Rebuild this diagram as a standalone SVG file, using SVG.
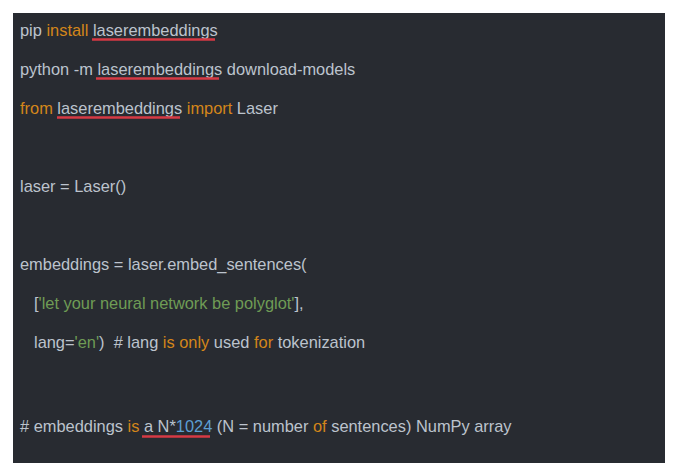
<svg xmlns="http://www.w3.org/2000/svg" width="678" height="475" viewBox="0 0 678 475">
<style>
text{font-family:"Liberation Sans",Arial,sans-serif;font-size:16.4px;fill:#bcc3cd;white-space:pre}
.k{fill:#d4861a}.s{fill:#6f9c55}.n{fill:#5d9fd3}
.u{stroke:#d63a44;stroke-width:2.5}
</style>
<rect x="0" y="0" width="678" height="475" fill="#ffffff"/>
<rect x="13" y="13" width="652" height="450" fill="#282b31"/>
<text x="20" y="36">pip <tspan class="k">install</tspan> laserembeddings</text>
<text x="20" y="75">python -m laserembeddings download-models</text>
<text x="20" y="114"><tspan class="k">from</tspan> laserembeddings <tspan class="k">import</tspan> Laser</text>
<text x="20" y="192">laser = Laser()</text>
<text x="20" y="270">embeddings = laser.embed_sentences(</text>
<text x="34" y="309">[<tspan class="s">'let your neural network be polyglot'</tspan>],</text>
<text x="34" y="348" xml:space="preserve">lang=<tspan class="s">'en'</tspan>)  # lang <tspan class="k">is only</tspan> used <tspan class="k">for</tspan> tokenization</text>
<text x="20" y="432"># embeddings <tspan class="k">is</tspan> a N*<tspan class="n">1024</tspan> (N = number <tspan class="k">of</tspan> sentences) NumPy array</text>
<g>
<line class="u" x1="92" y1="39.5" x2="215" y2="39.5"/>
<line class="u" x1="96" y1="78.5" x2="219" y2="78.5"/>
<line class="u" x1="57" y1="117.5" x2="180" y2="117.5"/>
<line class="u" x1="142" y1="436.5" x2="210" y2="436.5"/>
</g>
</svg>
